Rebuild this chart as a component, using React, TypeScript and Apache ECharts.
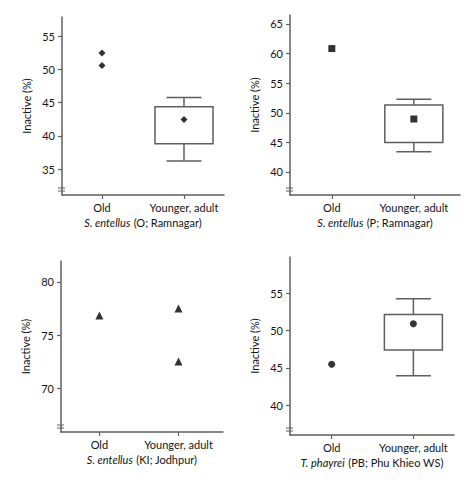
import React, { useEffect, useRef } from "react";
import * as echarts from "echarts";

// Group labels on every x axis
const groups = ["Old", "Younger, adult"];

// Panel A – S. entellus (O; Ramnagar)
const aOld = [52.45, 50.55];
const aBox = [36.2, 38.8, 44.35, 45.75]; // whisker low, Q1, Q3, whisker high
const aMean = 42.45;
const aTicks = [35, 40, 45, 50, 55];

// Panel B – S. entellus (P; Ramnagar)
const bOld = [60.85];
const bBox = [43.4, 45.0, 51.3, 52.3];
const bMean = 48.95;
const bTicks = [40, 45, 50, 55, 60, 65];

// Panel C – S. entellus (KI; Jodhpur)
const cOld = [76.85];
const cYoung = [77.5, 72.55];
const cTicks = [70, 75, 80];

// Panel D – T. phayrei (PB; Phu Khieo WS)
const dOld = [45.5];
const dBox = [43.95, 47.4, 52.2, 54.3];
const dMean = 50.95;
const dTicks = [40, 45, 50, 55];

const species = ["S. entellus", "S. entellus", "S. entellus", "T. phayrei"];
const sites = ["(O; Ramnagar)", "(P; Ramnagar)", "(KI; Jodhpur)", "(PB; Phu Khieo WS)"];
const yTitle = "Inactive (%)";

const FONT = "Lato, 'Noto Sans', sans-serif";
const AXIS = "#5f5f5f";
const INK = "#141414";

// grid rectangles and axis ranges per panel
const layout = [
  { left: 62, top: 17, width: 162, height: 178, ymin: 31.09, ymax: 57.86, xmin: -0.488, xmax: 1.488 },
  { left: 290, top: 15, width: 170, height: 180, ymin: 36.11, ymax: 66.52, xmin: -0.51, xmax: 1.563 },
  { left: 61, top: 261, width: 162, height: 171, ymin: 65.93, ymax: 81.96, xmin: -0.485, xmax: 1.562 },
  { left: 290, top: 257, width: 164, height: 178, ymin: 35.97, ymax: 59.92, xmin: -0.51, xmax: 1.497 },
];
const tickSets = [aTicks, bTicks, cTicks, dTicks];

function renderBox(_params: any, api: any) {
  const x = api.value(0);
  const lo = api.coord([x, api.value(1)]);
  const q1 = api.coord([x, api.value(2)]);
  const q3 = api.coord([x, api.value(3)]);
  const hi = api.coord([x, api.value(4)]);
  const cx = lo[0];
  const bw = 58;
  const cw = 35;
  const line = { stroke: AXIS, lineWidth: 1.5 };
  return {
    type: "group",
    children: [
      { type: "line", shape: { x1: cx, y1: hi[1], x2: cx, y2: q3[1] }, style: line },
      { type: "line", shape: { x1: cx, y1: q1[1], x2: cx, y2: lo[1] }, style: line },
      { type: "line", shape: { x1: cx - cw / 2, y1: hi[1], x2: cx + cw / 2, y2: hi[1] }, style: line },
      { type: "line", shape: { x1: cx - cw / 2, y1: lo[1], x2: cx + cw / 2, y2: lo[1] }, style: line },
      {
        type: "rect",
        shape: { x: cx - bw / 2, y: q3[1], width: bw, height: q1[1] - q3[1] },
        style: { stroke: AXIS, lineWidth: 1.5, fill: "#ffffff" },
      },
    ],
  };
}

export default function App() {
  const ref = useRef<HTMLDivElement>(null);

  useEffect(() => {
    if (!ref.current) return;
    const chart = echarts.init(ref.current, null, { renderer: "svg" });

    const grid = layout.map((g) => ({ left: g.left, top: g.top, width: g.width, height: g.height }));

    const xAxis = layout.map((g, i) => ({
      type: "value",
      gridIndex: i,
      min: g.xmin,
      max: g.xmax,
      splitLine: { show: false },
      axisLine: { show: true, onZero: false, lineStyle: { color: AXIS, width: 1.5 } },
      axisTick: { show: true, customValues: [0, 1], length: 4, lineStyle: { color: AXIS, width: 1.2 } },
      axisLabel: {
        customValues: [0, 1],
        formatter: (v: number) => groups[Math.round(v)],
        color: INK,
        fontFamily: FONT,
        fontSize: 11,
        margin: 7,
      },
      name: `{it|${species[i]}} {rg|${sites[i]}}`,
      nameLocation: "middle",
      nameGap: 21,
      nameTextStyle: {
        rich: {
          it: { fontStyle: "italic", fontFamily: FONT, fontSize: 11, color: INK },
          rg: { fontFamily: FONT, fontSize: 11, color: INK },
        },
      },
    }));

    const yAxis = layout.map((g, i) => ({
      type: "value",
      gridIndex: i,
      min: g.ymin,
      max: g.ymax,
      splitLine: { show: false },
      axisLine: { show: true, onZero: false, lineStyle: { color: AXIS, width: 1.5 } },
      axisTick: { show: true, customValues: tickSets[i], length: 4, lineStyle: { color: AXIS, width: 1.2 } },
      axisLabel: {
        customValues: tickSets[i],
        color: INK,
        fontFamily: FONT,
        fontSize: 11,
        margin: 7,
      },
      name: yTitle,
      nameLocation: "middle",
      nameGap: 30,
      nameTextStyle: { fontFamily: FONT, fontSize: 11, color: INK },
    }));

    const pts = (x: number, vals: number[]) => vals.map((v) => [x, v]);
    const scatter = (i: number, symbol: string, size: number, data: number[][]) => ({
      type: "scatter",
      xAxisIndex: i,
      yAxisIndex: i,
      symbol,
      symbolSize: size,
      itemStyle: { color: "#000" },
      z: 5,
      data,
    });
    const box = (i: number, b: number[]) => ({
      type: "custom",
      xAxisIndex: i,
      yAxisIndex: i,
      renderItem: renderBox,
      encode: { x: 0, y: [1, 2, 3, 4] },
      z: 2,
      data: [[1, ...b]],
    });

    // short double stroke across each y axis near its foot
    const breaks = layout.map((g) => ({
      type: "group",
      children: [
        { type: "rect", shape: { x: g.left - 1, y: g.top + g.height - 6.5, width: 2, height: 3 }, style: { fill: "#fff" } },
        { type: "line", shape: { x1: g.left - 4, y1: g.top + g.height - 7, x2: g.left + 3, y2: g.top + g.height - 7 }, style: { stroke: AXIS, lineWidth: 1 } },
        { type: "line", shape: { x1: g.left - 4, y1: g.top + g.height - 4, x2: g.left + 3, y2: g.top + g.height - 4 }, style: { stroke: AXIS, lineWidth: 1 } },
      ],
    }));

    chart.setOption({
      animation: false,
      backgroundColor: "#ffffff",
      grid,
      xAxis,
      yAxis,
      graphic: breaks,
      series: [
        scatter(0, "diamond", 7, pts(0, aOld)),
        box(0, aBox),
        scatter(0, "diamond", 7, pts(1, [aMean])),
        scatter(1, "rect", 7, pts(0, bOld)),
        box(1, bBox),
        scatter(1, "rect", 7, pts(1, [bMean])),
        scatter(2, "triangle", 8, pts(0, cOld)),
        scatter(2, "triangle", 8, pts(1, cYoung)),
        scatter(3, "circle", 7, pts(0, dOld)),
        box(3, dBox),
        scatter(3, "circle", 7, pts(1, [dMean])),
      ],
    });

    return () => chart.dispose();
  }, []);

  return <div ref={ref} style={{ position: "absolute", left: 0, top: 0, width: 474, height: 483 }} />;
}
